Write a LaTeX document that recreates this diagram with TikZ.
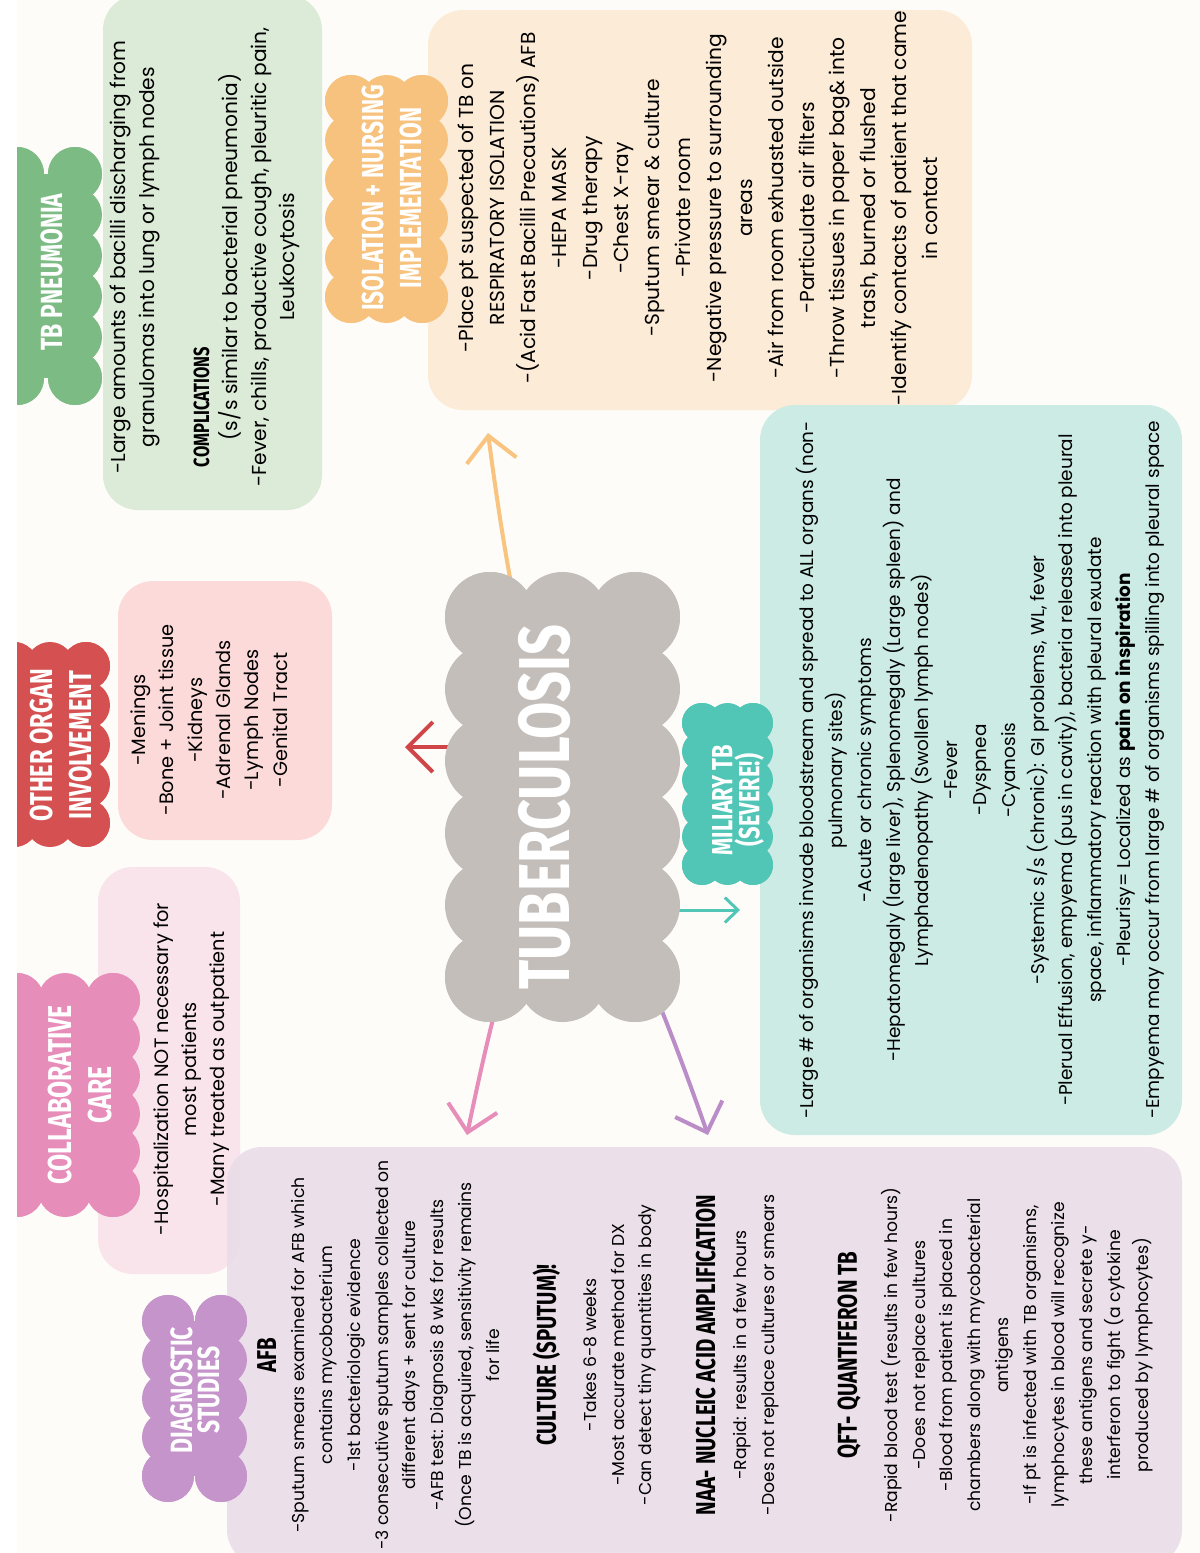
\documentclass[tikz,border=0pt]{standalone}
\usepackage{fontspec}
\setmainfont{Poppins}
\newfontfamily\headfont[FakeStretch=0.75]{Fira Sans}
\usetikzlibrary{arrows.meta,backgrounds,calc}

\definecolor{paper}{HTML}{FDFCF8}
\definecolor{core}{HTML}{C3BEBA}
\definecolor{pneu}{HTML}{7DBB84}
\definecolor{pneubg}{HTML}{DCEAD8}
\definecolor{iso}{HTML}{F7C27E}
\definecolor{isobg}{HTML}{FCEBD6}
\definecolor{isoarrow}{HTML}{F8C47F}
\definecolor{organ}{HTML}{D55050}
\definecolor{organbg}{HTML}{FDDADA}
\definecolor{organarrow}{HTML}{CF4548}
\definecolor{collab}{HTML}{E78DBA}
\definecolor{collabbg}{HTML}{F9E4EC}
\definecolor{diag}{HTML}{C494CA}
\definecolor{diagbg}{HTML}{EADDE8}
\definecolor{diagarrow}{HTML}{BA8CC8}
\definecolor{mil}{HTML}{52C6B6}
\definecolor{milbg}{HTML}{CBEBE4}

% scalloped cloud: colour, top-left x,y, bottom-right x,y, radius, puffs across, puffs down
\newcommand\puffs[8]{%
  \pgfmathsetmacro\pfL{#2+#6}\pgfmathsetmacro\pfR{#4-#6}%
  \pgfmathsetmacro\pfT{#3+#6}\pgfmathsetmacro\pfB{#5-#6}%
  \fill[#1] (\pfL,\pfT) rectangle (\pfR,\pfB);
  \foreach \k in {0,...,#8}{%
    \pgfmathsetmacro\pfY{\pfT+(\pfB-\pfT)*\k/#8}
    \fill[#1] (\pfL,\pfY) circle[radius=#6] (\pfR,\pfY) circle[radius=#6];}
  \foreach \k in {0,...,#7}{%
    \pgfmathsetmacro\pfX{\pfL+(\pfR-\pfL)*\k/#7}
    \fill[#1] (\pfX,\pfT) circle[radius=#6] (\pfX,\pfB) circle[radius=#6];}
}
\newcommand\hfs[2]{\headfont\bfseries\fontsize{#1}{#2}\selectfont}

\tikzset{
  panel/.style={fill=#1, rounded corners=7mm},
  heading/.style={rotate=90, text=white, align=center, inner sep=0},
  body/.style={rotate=90, align=center, inner sep=0, anchor=north},
  link/.style={-{Straight Barb[length=5mm,width=10mm]}, line width=0.8mm,
               line cap=round, draw=#1}
}
\newcommand\subhead[1]{{\hfs{12.5}{16}#1}}
\newcommand\testhead[1]{{\hfs{15.5}{18}#1}}

\begin{document}
\begin{tikzpicture}[x=0.2mm, y=-0.2mm]
  \useasboundingbox (0,0) rectangle (1200,1553);
  \begin{pgfonlayer}{background}
    \fill[paper] (0,0) rectangle (1200,1553);
    \fill[white] (0,0) rectangle (17,1553);
  \end{pgfonlayer}

  % panels
  \fill[panel=pneubg] (103,-5) rectangle (322,510);
  \fill[panel=isobg] (428,10) rectangle (972,410);
  \fill[panel=organbg] (118,581) rectangle (332,840);
  \fill[panel=collabbg] (98,867) rectangle (240,1274);
  \fill[panel=milbg] (760,405) rectangle (1182,1135);
  \fill[panel=diagbg, fill opacity=0.9] (227,1147) rectangle (1182,1565);

  % clouds
  \begin{scope}
    \clip (17,0) rectangle (1200,1553);
    \puffs{pneu}{-10}{147}{102}{405}{27}{1}{5}
    \puffs{organ}{-10}{642}{110}{847}{24}{2}{4}
    \puffs{collab}{-10}{973}{140}{1217}{27}{2}{5}
  \end{scope}
  \puffs{iso}{325}{75}{448}{323}{26}{2}{5}
  \puffs{diag}{142}{1295}{247}{1502}{26}{1}{4}
  \puffs{mil}{682}{703}{773}{885}{20}{2}{5}
  \puffs{core}{445}{572}{680}{1022}{45}{2}{5}

  % headings
  \node[heading, font=\hfs{17.4}{21}] (pneuhead) at (52,272) {TB PNEUMONIA};
  \node[heading, font=\hfs{17.3}{21.3}] (isohead) at (392,198)
    {ISOLATION + NURSING\\IMPLEMENTATION};
  \node[heading, font=\hfs{18}{22.7}] (organhead) at (61,745)
    {OTHER ORGAN\\INVOLVEMENT};
  \node[heading, font=\hfs{18.8}{22.7}] (collabhead) at (80,1095)
    {COLLABORATIVE\\CARE};
  \node[heading, font=\hfs{17.5}{15.4}] (diaghead) at (195,1390)
    {DIAGNOSTIC\\STUDIES};
  \node[heading, font=\hfs{16.6}{15.4}] (milhead) at (738,800)
    {MILIARY TB\\(SEVERE!)};
  \node[minimum width=47mm, minimum height=90mm, inner sep=0] (tb) at (562,797) {};
  \node[heading, font=\hfs{41}{44}] (tbtitle) at (545,807) {TUBERCULOSIS};

  % panel texts
  \node[body, font=\fontsize{11.5}{16.2}\selectfont] (pneutext) at (110,257) {%
    -Large amounts of bacilli discharging from\\
    granulomas into lung or lymph nodes\\[15pt]
    \makebox[84mm][l]{\subhead{COMPLICATIONS}}\\
    (s/s similar to bacterial pneumonia)\\
    -Fever, chills, productive cough, pleuritic pain,\\
    Leukocytosis};

  \node[body, font=\fontsize{11.5}{17.6}\selectfont] (isotext) at (458,208) {%
    -Place pt suspected of TB on\\
    RESPIRATORY ISOLATION\\
    -(Acid Fast Bacilli Precautions) AFB\\
    -HEPA MASK\\
    -Drug therapy\\
    -Chest X-ray\\
    -Sputum smear \& culture\\
    -Private room\\
    -Negative pressure to surrounding\\
    areas\\
    -Air from room exhuasted outside\\
    -Particulate air filters\\
    -Throw tissues in paper bag\& into\\
    trash, burned or flushed\\
    -Identify contacts of patient that came\\
    in contact};

  \node[body, font=\fontsize{11}{16.2}\selectfont] (organtext) at (130,720) {%
    -Menings\\
    -Bone + Joint tissue\\
    -Kidneys\\
    -Adrenal Glands\\
    -Lymph Nodes\\
    -Genital Tract};

  \node[body, font=\fontsize{11}{16}\selectfont] (collabtext) at (153,1069) {%
    -Hospitalization NOT necessary for\\
    most patients\\
    -Many treated as outpatient};

  \node[body, font=\fontsize{10.5}{16.4}\selectfont] (miltext) at (796,770) {%
    -Large \# of organisms invade bloodstream and spread to ALL organs (non-\\
    pulmonary sites)\\
    -Acute or chronic symptoms\\
    -Hepatomegaly (large liver), Splenomegaly (Large spleen) and\\
    Lymphadenopathy (Swollen lymph nodes)\\
    -Fever\\
    -Dyspnea\\
    -Cyanosis\\
    -Systemic s/s (chronic): GI problems, WL, fever\\
    -Plerual Effusion, empyema (pus in cavity), bacteria released into pleural\\
    space, inflammatory reaction with pleural exudate\\
    -Pleurisy= Localized as \textbf{pain on inspiration}\\
    -Empyema may occur from large \# of organisms spilling into pleural space};

  \node[body, font=\fontsize{9.8}{15.9}\selectfont] (diagtext) at (257,1355) {%
    \testhead{AFB}\\
    -Sputum smears examined for AFB which\\
    contains mycobacterium\\
    -1st bacteriologic evidence\\
    -3 consecutive sputum samples collected on\\
    different days + sent for culture\\
    -AFB test: Diagnosis 8 wks for results\\
    (Once TB is acquired, sensitivity remains\\
    for life\\[16pt]
    \testhead{CULTURE (SPUTUM)!}\\[7pt]
    -Takes 6-8 weeks\\
    -Most accurate method for DX\\
    -Can detect tiny quantities in body\\[20pt]
    \testhead{NAA- NUCLEIC ACID AMPLIFICATION}\\[2pt]
    -Rapid: results in a few hours\\
    -Does not replace cultures or smears\\[31pt]
    \testhead{QFT- QUANTIFERON TB}\\[7pt]
    -Rapid blood test (results in few hours)\\
    -Does not replace cultures\\
    -Blood from patient is placed in\\
    chambers along with mycobacterial\\
    antigens\\
    -If pt is infected with TB organisms,\\
    lymphocytes in blood will recognize\\
    these antigens and secrete y-\\
    interferon to fight (a cytokine\\
    produced by lymphocytes)};

  % arrow tips
  \coordinate (isoTip) at (488,433);
  \coordinate (organTip) at (405,747);
  \coordinate (collabTip) at (467,1135);
  \coordinate (diagTip) at (708,1135);
  \coordinate (milTip) at (740,910);

  \begin{pgfonlayer}{background}
    \draw[link=isoarrow] (tb.center) to[bend left=4] (isoTip);
    \draw[link=organarrow] (tb.center |- organTip) -- (organTip);
    \draw[link=collab] (tb.center) to[bend right=4] (collabTip);
    \draw[link=diagarrow] (tb.center) to[bend left=4] (diagTip);
    \draw[link=mil, line width=0.6mm, -{Straight Barb[length=2.6mm,width=5mm]}]
      (tb.center |- milTip) -- (milTip);
  \end{pgfonlayer}
\end{tikzpicture}
\end{document}
